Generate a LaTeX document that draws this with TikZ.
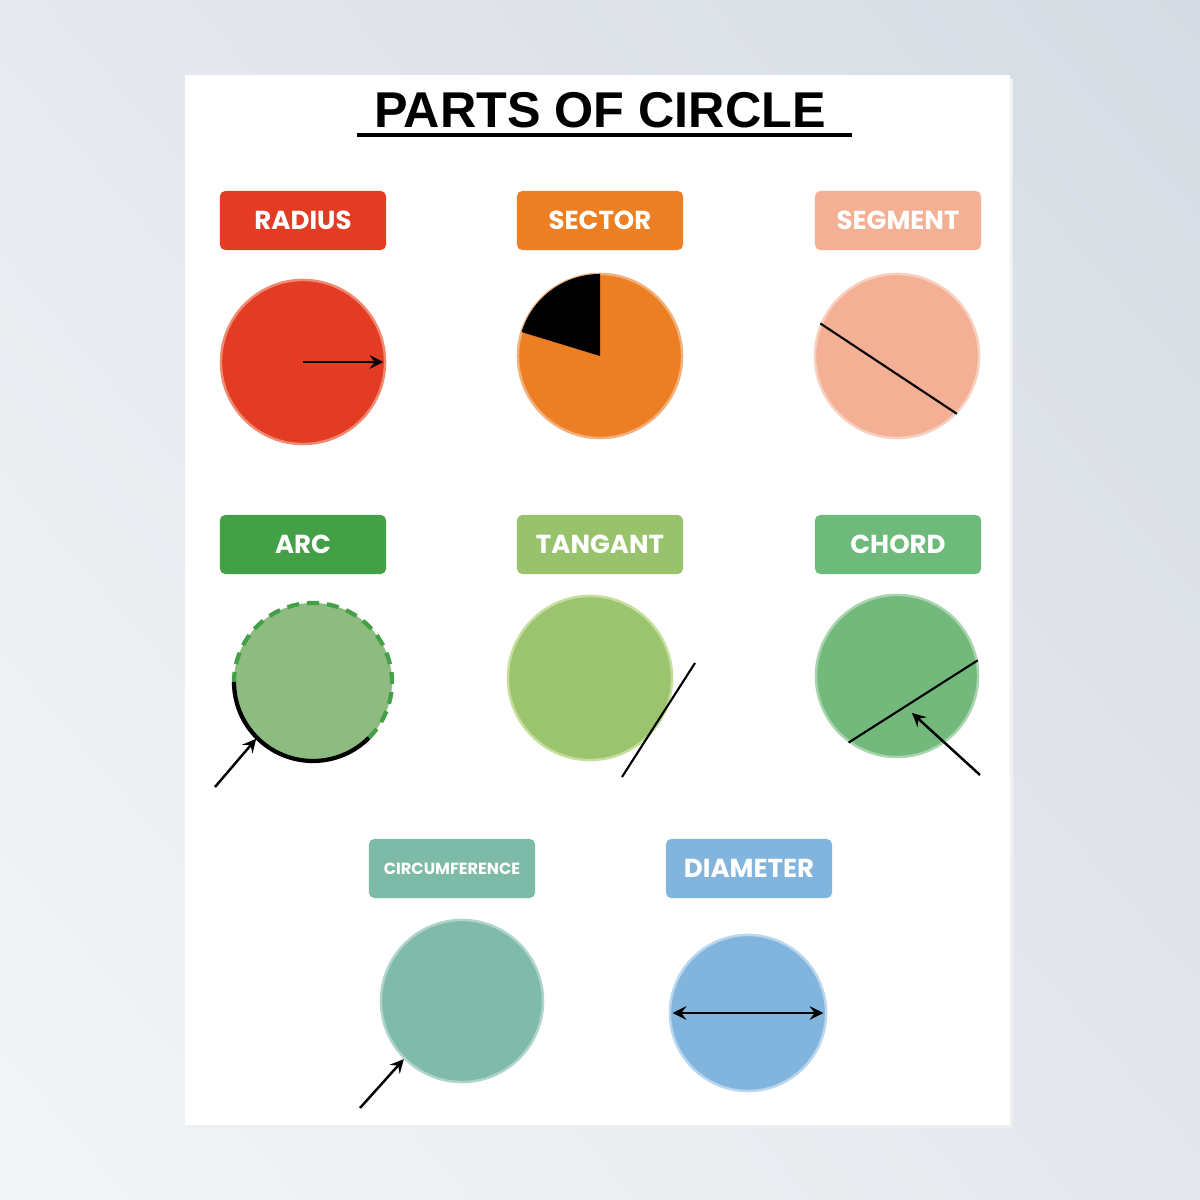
\documentclass[tikz,border=0pt]{standalone}
\usepackage{fontspec}
\setmainfont{Liberation Sans}
\newfontfamily\tagfont{Poppins}
\usetikzlibrary{shadings}

\definecolor{bgtl}{HTML}{E6E9EE}
\definecolor{bgtr}{HTML}{D6DBE3}
\definecolor{bgbl}{HTML}{F4F5F7}
\definecolor{bgbr}{HTML}{E4E7EC}
\definecolor{radiusred}{HTML}{E33B24}
\definecolor{radiusrim}{HTML}{EF8A70}
\definecolor{sectororange}{HTML}{EC7F24}
\definecolor{sectorrim}{HTML}{F2B07A}
\definecolor{segmentpink}{HTML}{F4B095}
\definecolor{segmentrim}{HTML}{F8D0C0}
\definecolor{arcgreen}{HTML}{43A047}
\definecolor{arcfill}{HTML}{8DBB80}
\definecolor{tangantgreen}{HTML}{98C36C}
\definecolor{tangantfill}{HTML}{9AC46E}
\definecolor{tangantrim}{HTML}{C5DE9A}
\definecolor{chordgreen}{HTML}{6DBA7A}
\definecolor{chordfill}{HTML}{72B97B}
\definecolor{chordrim}{HTML}{A8D4AE}
\definecolor{circumteal}{HTML}{7DBAA8}
\definecolor{circumfill}{HTML}{7FBAAA}
\definecolor{circumrim}{HTML}{AFD4C9}
\definecolor{diameterblue}{HTML}{82B5DD}
\definecolor{diameterrim}{HTML}{B8D6EE}

\begin{document}
\begin{tikzpicture}[x=0.01cm, y=0.01cm,
    tag/.style={fill=#1, text=white, minimum width=1.66cm, minimum height=0.59cm,
      inner sep=0pt, rounded corners=1.5pt,
      font=\tagfont\bfseries\fontsize{7.4}{9}\selectfont},
    disc/.style 2 args={circle, fill=#1, draw=#2, line width=0.7pt, inner sep=0pt},
    pointer/.style={-stealth, line width=0.7pt},
    cutline/.style={line width=0.6pt}]
      % background and poster sheet
      \shade[upper left=bgtl, upper right=bgtr, lower left=bgbl, lower right=bgbr]
        (0,0) rectangle (1200,1200);
      \fill[black!6] (188,72) rectangle (1013,1122);
      \fill[white] (185,75) rectangle (1010,1125);

      \node (title) at (600,1090) {\fontsize{14.3}{17}\selectfont\bfseries PARTS OF CIRCLE};
      \draw[line width=1.1pt] (357,1065) -- (852,1065);

      % first row
      \node[tag=radiusred] (trad) at (303,979.5) {RADIUS};
      \node[tag=sectororange] (tsec) at (600,979.5) {SECTOR};
      \node[tag=segmentpink] (tseg) at (898,979.5) {SEGMENT};

      \node[disc={radiusred}{radiusrim}, minimum size=1.64cm] (rad) at (303,838) {};
      \draw[pointer, shorten >=0.03cm] (rad.center) -- (rad.east);

      \node[disc={sectororange}{sectorrim}, minimum size=1.64cm] (sec) at (600,844) {};
      \fill[black] (sec.center) -- ++(90:82) arc[start angle=90, end angle=163, radius=82] -- cycle;

      \node[disc={segmentpink}{segmentrim}, minimum size=1.64cm] (seg) at (897,844) {};
      \draw[cutline] (seg.157) -- (seg.-44);

      % second row
      \node[tag=arcgreen] (tarc) at (303,655.5) {ARC};
      \node[tag=tangantgreen] (ttan) at (600,655.5) {TANGANT};
      \node[tag=chordgreen] (tcho) at (898,655.5) {CHORD};

      \node[disc={arcfill}{arcfill}, minimum size=1.58cm, draw=none] (arcd) at (313,518) {};
      \draw[arcgreen, line width=1.2pt, dash pattern=on 0.12cm off 0.08cm]
        ([shift={(-45:79)}]arcd.center) arc[start angle=-45, end angle=180, radius=79];
      \draw[black, line width=1.2pt]
        ([shift={(180:79)}]arcd.center) arc[start angle=180, end angle=315, radius=79];
      \coordinate (arctail) at (215,413);
      \draw[pointer] (arctail) -- (arcd.225);

      \node[disc={tangantfill}{tangantrim}, minimum size=1.64cm] (tan) at (590,522) {};
      \coordinate (tanlow) at (622,423);
      \coordinate (tanhigh) at (695,537);
      \draw[cutline] (tanlow) -- (tanhigh);

      \node[disc={chordfill}{chordrim}, minimum size=1.62cm] (cho) at (897,524) {};
      \draw[cutline] (cho.234) -- (cho.11);
      \coordinate (chotail) at (980,425);
      \coordinate (chotip) at (912,487);
      \draw[pointer] (chotail) -- (chotip);

      % third row
      \node[tag=circumteal, font=\tagfont\bfseries\fontsize{4.6}{6}\selectfont] (tcir) at (452,331.5) {CIRCUMFERENCE};
      \node[tag=diameterblue] (tdia) at (749,331.5) {DIAMETER};

      \node[disc={circumfill}{circumrim}, minimum size=1.62cm] (cir) at (462,199) {};
      \coordinate (cirtail) at (360,92);
      \draw[pointer] (cirtail) -- (cir.225);

      \node[disc={diameterblue}{diameterrim}, minimum size=1.56cm] (dia) at (748,187) {};
      \draw[pointer, stealth-stealth, shorten <=0.04cm, shorten >=0.04cm] (dia.west) -- (dia.east);
    \end{tikzpicture}
\end{document}
